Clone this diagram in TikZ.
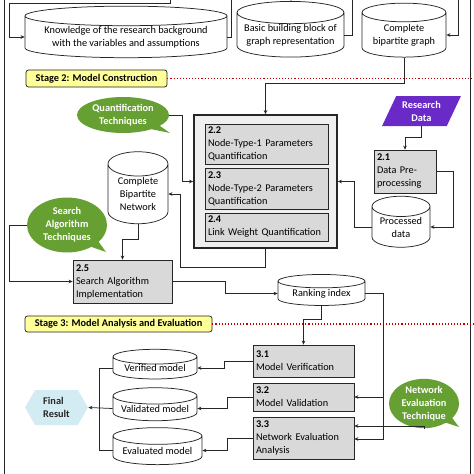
\documentclass[tikz,border=0pt]{standalone}
\usepackage{fontspec}
\setmainfont{Carlito}
\usetikzlibrary{arrows.meta,positioning,shapes.geometric,shapes.symbols,shapes.callouts}
\definecolor{ink}{HTML}{262626}
\definecolor{boxgray}{HTML}{D9D9D9}
\definecolor{biggray}{HTML}{EFEFEF}
\definecolor{techgreen}{HTML}{67A032}
\definecolor{datapurple}{HTML}{6A2AC8}
\definecolor{stageyellow}{HTML}{FFFF99}
\definecolor{resultblue}{HTML}{D3ECF4}
\definecolor{dotred}{HTML}{C00000}

\begin{document}
\begin{tikzpicture}[
  x=1pt, y=-1pt,
  >={Stealth[length=4pt,width=3.6pt]},
  font=\fontsize{10.3}{13}\selectfont,
  line width=0.75pt,
  cyl/.style={cylinder, shape border rotate=90, shape aspect=#1, draw=ink, fill=white, inner sep=0pt, align=center},
  procbox/.style={draw=ink, fill=boxgray, inner xsep=3pt, inner ysep=0pt, text width=#1, align=left},
  stagebox/.style={draw=ink, fill=stageyellow, rounded corners=2.5pt, inner xsep=6pt, inner ysep=0pt, align=left, font=\fontsize{10.3}{13}\selectfont\bfseries},
  bubble/.style={ellipse callout, fill=techgreen, text=white, inner sep=0pt, align=center, font=\fontsize{10.3}{13}\selectfont\bfseries},
  flow/.style={draw=ink, ->},
  link/.style={draw=ink},
  stagedots/.style={draw=dotred, dotted, line width=1.1pt}
]
\useasboundingbox (0,0) rectangle (474,474);

% frame of the figure
\draw[ink, line width=1pt] (4,0) -- (4,474);
\draw[ink, line width=1pt] (470,0) -- (470,474);

% free ends at the top (stage 1 is cut off)
\coordinate (topA) at (170,0);
\coordinate (topB) at (231,0);
\coordinate (topC) at (291,0);
\coordinate (topD) at (352,0);
\coordinate (topE) at (458,0);
\coordinate (edge) at (474,0);

% tips of the speech bubbles
\coordinate (quanttip) at (170,133);
\coordinate (searchtip) at (106,252);
\coordinate (nettip) at (459,427);

% stage 1 outputs
\node[cyl=0.12, minimum width=202, minimum height=49] (know) at (126,37)
  {Knowledge of the research background\\with the variables and assumptions};
\node[cyl=0.24, minimum width=107, minimum height=50] (basic) at (290.5,35)
  {Basic building block of\\graph representation};
\node[cyl=0.3, minimum width=84, minimum height=54] (cbg) at (404,35)
  {Complete\\bipartite graph};

% stage 2
\node[stagebox, minimum width=141, minimum height=17] (stage2) at (96.5,78.5) {Stage 2: Model Construction};
\draw[stagedots] (stage2.east) -- (stage2.east -| edge);

\node[draw=ink, fill=biggray, line width=1.8pt, minimum width=143, minimum height=133] (big) at (265.5,181.5) {};
\node[procbox=117pt, minimum height=40] (q22) at (266.5,144)
  {\textbf{2.2}\\Node-Type-1 Parameters\\Quantification};
\node[procbox=117pt, minimum height=41] (q23) at (266.5,188.5)
  {\textbf{2.3}\\Node-Type-2 Parameters\\Quantification};
\node[procbox=117pt, minimum height=28] (q24) at (266.5,227)
  {\textbf{2.4}\\Link Weight Quantification};

\node[bubble, minimum width=92, minimum height=36, callout absolute pointer={(quanttip)}] (quant) at (123,115)
  {Quantification\\Techniques};
\node[bubble, minimum width=80, minimum height=55, callout absolute pointer={(searchtip)}] (search) at (67,225)
  {Search\\Algorithm\\Techniques};

\node[trapezium, trapezium left angle=62, trapezium right angle=118, trapezium stretches=true,
  fill=datapurple, text=white, font=\fontsize{10.3}{13}\selectfont\bfseries, align=center, inner sep=0pt,
  minimum width=79, minimum height=30] (rdata) at (421.5,111) {Research\\Data};
\node[procbox=56pt, minimum height=43] (p21) at (405,171.5)
  {\textbf{2.1}\\Data Pre-\\processing};
\node[cyl=0.48, minimum width=58, minimum height=46] (proc) at (401,227)
  {Processed\\data};

\node[cyl=0.6, minimum width=60, minimum height=72] (cbn) at (138,194)
  {Complete\\Bipartite\\Network};
\node[procbox=93pt, minimum height=43] (s25) at (122.5,281.5)
  {\textbf{2.5}\\Search Algorithm\\Implementation};
\node[cyl=0.23, minimum width=87, minimum height=31] (rank) at (321.5,293.5)
  {Ranking index};

% stage 3
\node[stagebox, minimum width=187, minimum height=16] (stage3) at (118.5,324) {Stage 3: Model Analysis and Evaluation};
\draw[stagedots] (stage3.east) -- (stage3.east -| edge);

\node[procbox=95pt, minimum height=32] (v31) at (303.5,361)
  {\textbf{3.1}\\Model Verification};
\node[procbox=95pt, minimum height=28] (v32) at (303.5,397)
  {\textbf{3.2}\\Model Validation};
\node[procbox=95pt, minimum height=42] (v33) at (303.5,438)
  {\textbf{3.3}\\Network Evaluation\\Analysis};
\node[bubble, minimum width=70, minimum height=47, callout absolute pointer={(nettip)}] (net) at (424,403.5)
  {Network\\Evaluation\\Technique};

\node[cyl=0.24, minimum width=84, minimum height=27] (verified) at (155,368) {Verified model};
\node[cyl=0.24, minimum width=84, minimum height=33] (validated) at (155,408.5) {Validated model};
\node[cyl=0.24, minimum width=89, minimum height=37] (evaluated) at (157.5,450.5) {Evaluated model};

\node[signal, signal to=west and east, signal pointer angle=120, fill=resultblue, inner sep=0pt,
  minimum width=63, minimum height=35, align=left, text=ink, font=\fontsize{10.3}{13}\selectfont\bfseries] (final) at (56.5,407.5)
  {Final\\Result};

% connectors
\draw[flow] (topA) -- ++(0,3) -| ([xshift=-15]know.west) -- (know.west);
\draw[link] (know.east) -| (topB);
\draw[flow] (topC) -- (basic.north);
\draw[link] (basic.east) -| (topD);
\draw[flow] (topE) |- (cbg.east);
\draw[flow] (cbg.south) -- ++(0,26) -| (big.north);
\draw[flow] (quant.east) -| ([xshift=-11]big.west) -- (big.west);
\draw[flow] (rdata.south) -- ++(0,11) -| (p21.north);
\draw[flow] (p21.east) -- ++(17,0) |- (proc.east);
\draw[flow] (proc.west) -- ++(-17,0) |- (big.east);
\draw[flow] (big.south) -- ++(0,18) -| ([xshift=12]cbn.east) -- (cbn.east);
\draw[flow] (cbn.south) -- ++(0,15) -| (s25.north);
\draw[flow] (search.west) -| ([xshift=-63]s25.west) -- (s25.west);
\draw[flow] (s25.east) -- ++(53,0) |- (rank.west);
\draw[flow] (rank.south) -- ++(0,14) -| (v31.north);
\draw[flow] (rank.east) -- ++(18,0) |- (v32.east);
\draw[flow] (rank.east) -- ++(18,0) |- ([yshift=-1]v33.east);
\draw[flow] (net.south) |- ([yshift=12]v33.east);
\draw[flow] (v31.west) -- ++(-28,0) |- (verified.east);
\draw[flow] (v32.west) -- ++(-25,0) |- (validated.east);
\draw[flow] (v33.west) -- ++(-25,0) |- (evaluated.east);
\draw[link] (verified.west) -- ++(-13,0) |- (evaluated.west);
\draw[flow] (validated.west) -- (final.east);
\end{tikzpicture}
\end{document}
